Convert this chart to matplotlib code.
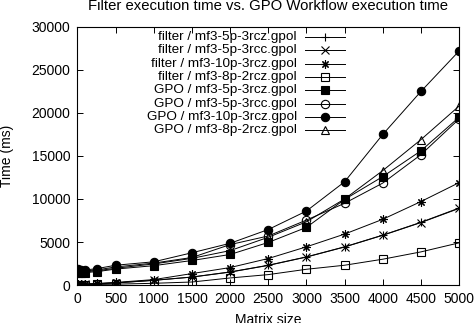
import matplotlib.pyplot as plt
from matplotlib.lines import Line2D

plt.rcParams['font.family'] = ['Liberation Sans', 'DejaVu Sans']

sizes = [10, 50, 100, 250, 500, 1000, 1500, 2000, 2500, 3000, 3500, 4000, 4500, 5000]

labels = ["filter / mf3-5p-3rcz.gpol", "filter / mf3-5p-3rcc.gpol",
          "filter / mf3-10p-3rcz.gpol", "filter / mf3-8p-2rcz.gpol",
          "GPO / mf3-5p-3rcz.gpol", "GPO / mf3-5p-3rcc.gpol",
          "GPO / mf3-10p-3rcz.gpol", "GPO / mf3-8p-2rcz.gpol"]

filter_5p_3rcz = [60, 80, 100, 150, 250, 550, 930, 1520, 2300, 3270, 4440, 5800, 7290, 8950]
filter_5p_3rcc = [50, 70, 90, 140, 240, 540, 920, 1500, 2280, 3250, 4420, 5780, 7260, 8900]
filter_10p_3rcz = [80, 100, 120, 180, 300, 630, 1330, 2030, 3080, 4440, 5920, 7640, 9700, 11900]
filter_8p_2rcz = [20, 30, 40, 60, 100, 200, 350, 820, 1210, 1830, 2300, 3000, 3850, 4900]
gpo_5p_3rcz = [1450, 1400, 1450, 1550, 1850, 2250, 2850, 3550, 4950, 6700, 9950, 12600, 15600, 19500]
gpo_5p_3rcc = [1650, 1600, 1650, 1750, 2100, 2550, 3200, 4700, 5700, 7550, 9500, 11850, 15150, 19300]
gpo_10p_3rcz = [1900, 1800, 1750, 1900, 2300, 2700, 3750, 4850, 6450, 8600, 12000, 17500, 22500, 27200]
gpo_8p_2rcz = [1550, 1500, 1550, 1650, 1950, 2450, 3100, 4000, 5550, 7350, 10000, 13300, 16900, 20800]

series = [filter_5p_3rcz, filter_5p_3rcc, filter_10p_3rcz, filter_8p_2rcz,
          gpo_5p_3rcz, gpo_5p_3rcc, gpo_10p_3rcz, gpo_8p_2rcz]
markers = ['+', 'x', (8, 2, 0), 's', 's', 'o', 'o', '^']
fills = ['none', 'none', 'none', 'none', 'black', 'none', 'black', 'none']

fig = plt.figure(figsize=(4.74, 3.23), dpi=100)
ax = fig.add_axes([0.1635, 0.1176, 0.805, 0.799])

for vals, m, fc in zip(series, markers, fills):
    ax.plot(sizes, vals, color='black', lw=0.7, marker=m, ms=6,
            mfc=fc, mec='black', mew=0.8)

ax.set_xlim(0, 5000)
ax.set_ylim(0, 30000)
ax.set_xticks(range(0, 5001, 500))
ax.set_yticks(range(0, 30001, 5000))
ax.tick_params(direction='in', top=True, right=True, length=4, width=0.7,
               labelsize=10, pad=5)
for s in ax.spines.values():
    s.set_linewidth(0.8)

ax.set_title("Filter execution time vs. GPO Workflow execution time",
             fontsize=10.7, pad=12)
ax.set_xlabel("Matrix size", fontsize=10, labelpad=5)
ax.set_ylabel("Time (ms)", fontsize=10, labelpad=13)

# gnuplot-like legend: right aligned text, sample on the right
y0 = 0.961
dy = 13.33 / 258
for i, (lab, m, fc) in enumerate(zip(labels, markers, fills)):
    y = y0 - i * dy
    ax.text(0.575, y, lab, transform=ax.transAxes, ha='right', va='center',
            fontsize=9.7)
    ax.add_line(Line2D([0.595, 0.70], [y, y], transform=ax.transAxes,
                       color='black', lw=0.7))
    ax.add_line(Line2D([0.648], [y], transform=ax.transAxes, marker=m, ms=6,
                       mfc=fc, mec='black', mew=0.8, color='black'))

fig.savefig("out.png", dpi=100)
